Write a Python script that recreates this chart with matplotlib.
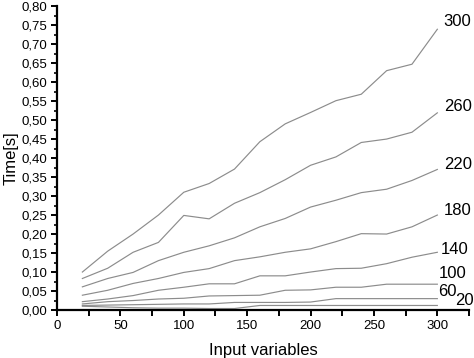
import matplotlib
matplotlib.use("Agg")
import matplotlib.pyplot as plt
from matplotlib.ticker import MultipleLocator, FuncFormatter

plt.rcParams['font.family'] = ['Liberation Sans', 'DejaVu Sans']

x = [20, 40, 60, 80, 100, 120, 140, 160, 180, 200, 220, 240, 260, 280, 300]

s20 = [0.010, 0.008, 0.006, 0.005, 0.005, 0.004, 0.004, 0.012, 0.012, 0.012, 0.012, 0.012, 0.012, 0.012, 0.012]
s60 = [0.012, 0.013, 0.014, 0.015, 0.016, 0.016, 0.020, 0.020, 0.020, 0.021, 0.030, 0.030, 0.030, 0.030, 0.030]
s100 = [0.016, 0.022, 0.025, 0.029, 0.031, 0.037, 0.038, 0.039, 0.052, 0.053, 0.060, 0.060, 0.068, 0.068, 0.068]
s140 = [0.022, 0.029, 0.038, 0.052, 0.060, 0.069, 0.069, 0.090, 0.090, 0.100, 0.109, 0.110, 0.122, 0.139, 0.152]
s180 = [0.039, 0.052, 0.070, 0.083, 0.099, 0.109, 0.130, 0.140, 0.152, 0.161, 0.180, 0.201, 0.200, 0.219, 0.250]
s220 = [0.061, 0.083, 0.099, 0.130, 0.152, 0.169, 0.190, 0.219, 0.241, 0.271, 0.289, 0.309, 0.318, 0.341, 0.370]
s260 = [0.083, 0.110, 0.152, 0.178, 0.249, 0.240, 0.281, 0.309, 0.343, 0.381, 0.403, 0.441, 0.450, 0.468, 0.519]
s300 = [0.100, 0.155, 0.200, 0.250, 0.310, 0.333, 0.371, 0.443, 0.490, 0.520, 0.551, 0.568, 0.630, 0.647, 0.739]

series = [s20, s60, s100, s140, s180, s220, s260, s300]
labels = ["20", "60", "100", "140", "180", "220", "260", "300"]
label_x = [314, 301, 301.5, 303, 305, 305, 305, 305]
label_y = [0.026, 0.048, 0.095, 0.160, 0.261, 0.382, 0.537, 0.760]

fig = plt.figure(figsize=(4.74, 3.58), dpi=100)
ax = fig.add_axes([0.1203, 0.134, 0.8692, 0.849])

for s in series:
    ax.plot(x, s, color='#8c8c8c', linewidth=0.85)

for lab, lx, ly in zip(labels, label_x, label_y):
    ax.text(lx, ly, lab, fontsize=12, ha='left', va='center', clip_on=False)

ax.set_xlim(0, 325)
ax.set_ylim(0, 0.8)
ax.spines['top'].set_visible(False)
ax.spines['right'].set_visible(False)
ax.spines['left'].set_linewidth(1.6)
ax.spines['bottom'].set_linewidth(1.6)

ax.xaxis.set_major_locator(MultipleLocator(50))
ax.xaxis.set_minor_locator(MultipleLocator(25))
ax.yaxis.set_major_locator(MultipleLocator(0.05))
ax.yaxis.set_minor_locator(MultipleLocator(0.025))
ax.yaxis.set_major_formatter(FuncFormatter(lambda v, p: f"{v:.2f}".replace('.', ',')))

ax.tick_params(axis='both', which='major', direction='out', length=4, width=1.4, labelsize=9.5, pad=3)
ax.tick_params(axis='x', which='minor', direction='out', length=4, width=1.4)
ax.tick_params(axis='y', which='minor', direction='out', length=2.5, width=1.2)

ax.set_xlabel("Input variables", fontsize=12, labelpad=8)
ax.set_ylabel("Time[s]", fontsize=12, labelpad=2)

fig.savefig("out.png", dpi=100)
